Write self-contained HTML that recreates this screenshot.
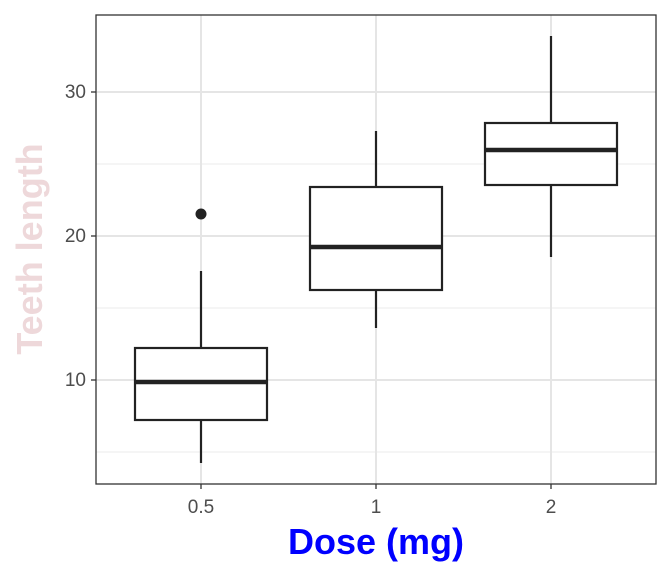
<!DOCTYPE html>
<html><head><style>body{margin:0;background:#fff}</style></head><body>
<svg width="672" height="576" xmlns="http://www.w3.org/2000/svg" font-family="Liberation Sans, sans-serif">
<rect width="672" height="576" fill="#fff"/>
<g stroke="#ebebeb" stroke-width="1">
<line x1="96" x2="656" y1="452" y2="452"/><line x1="96" x2="656" y1="308" y2="308"/><line x1="96" x2="656" y1="164" y2="164"/>
</g>
<g stroke="#e5e5e5" stroke-width="2">
<line x1="96" x2="656" y1="380" y2="380"/><line x1="96" x2="656" y1="236" y2="236"/><line x1="96" x2="656" y1="92" y2="92"/>
<line x1="201" x2="201" y1="15" y2="484"/><line x1="376" x2="376" y1="15" y2="484"/><line x1="551" x2="551" y1="15" y2="484"/>
</g>
<g stroke="#222" stroke-width="2.2" fill="#fff">
<line x1="201" x2="201" y1="271" y2="348"/><line x1="201" x2="201" y1="420" y2="463"/>
<rect x="135" y="348" width="132" height="72"/>
<line x1="135" x2="267" y1="382" y2="382" stroke-width="4.5"/>
<line x1="376" x2="376" y1="131" y2="187"/><line x1="376" x2="376" y1="290" y2="328"/>
<rect x="310" y="187" width="132" height="103"/>
<line x1="310" x2="442" y1="247" y2="247" stroke-width="4.5"/>
<line x1="551" x2="551" y1="36" y2="123"/><line x1="551" x2="551" y1="185" y2="257"/>
<rect x="485" y="123" width="132" height="62"/>
<line x1="485" x2="617" y1="150" y2="150" stroke-width="4.5"/>
</g>
<circle cx="201" cy="214" r="5.5" fill="#222"/>
<rect x="96" y="15" width="560" height="469" fill="none" stroke="#333" stroke-width="1.3"/>
<g stroke="#333" stroke-width="1.3">
<line x1="91" x2="96" y1="380" y2="380"/><line x1="91" x2="96" y1="236" y2="236"/><line x1="91" x2="96" y1="92" y2="92"/>
<line x1="201" x2="201" y1="484" y2="489"/><line x1="376" x2="376" y1="484" y2="489"/><line x1="551" x2="551" y1="484" y2="489"/>
</g>
<g font-size="19" fill="#4d4d4d">
<text x="86" y="386" text-anchor="end">10</text><text x="86" y="242" text-anchor="end">20</text><text x="86" y="98" text-anchor="end">30</text>
<text x="201" y="513" text-anchor="middle">0.5</text><text x="376" y="513" text-anchor="middle">1</text><text x="551" y="513" text-anchor="middle">2</text>
</g>
<text x="376" y="554" text-anchor="middle" font-size="36" font-weight="bold" fill="#0000ff">Dose (mg)</text>
<text transform="translate(42,249) rotate(-90)" text-anchor="middle" font-size="36" font-weight="bold" fill="#eed8da">Teeth length</text>
</svg>
</body></html>
